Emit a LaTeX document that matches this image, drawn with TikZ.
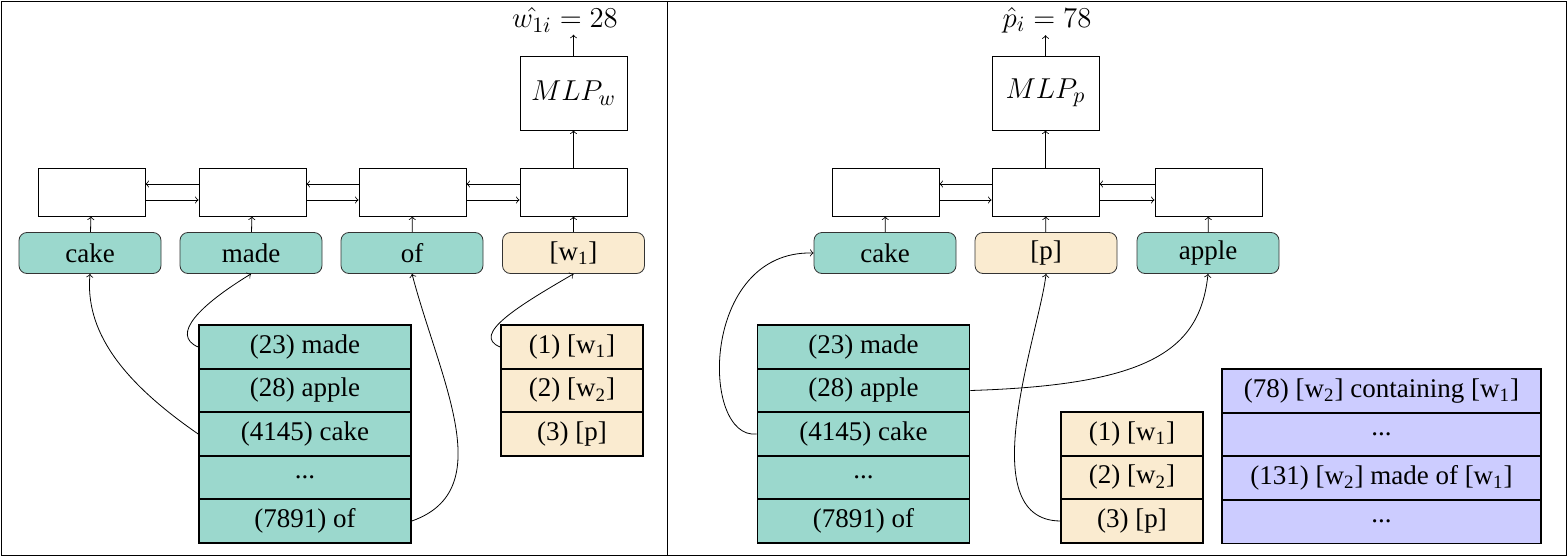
\documentclass[tikz,border=0pt]{standalone}
\usepackage[no-math]{fontspec}
\setmainfont{Liberation Serif}
\begin{document}
\definecolor{teal1}{HTML}{9BD8CD}
\definecolor{beige}{HTML}{FAEBD0}
\definecolor{lav}{HTML}{CCCCFF}
\begin{tikzpicture}[x=0.5pt,y=-0.5pt,font=\fontsize{13.5}{15}\selectfont,
  lstm/.style={draw,minimum width=53.5pt,minimum height=24pt,inner sep=0pt},
  mlp/.style={draw,minimum width=53.5pt,minimum height=37pt,inner sep=0pt,font=\fontsize{15}{17}\selectfont},
  lab/.style={inner sep=1pt,font=\fontsize{15}{17}\selectfont},
  tok/.style={draw=black!80,rounded corners=4pt,minimum width=71pt,minimum height=20.5pt,inner sep=0pt},
  row/.style={draw,line width=0.8pt,minimum height=21.8pt,inner sep=0pt},
  vt/.style={row,fill=teal1,minimum width=106pt},
  st/.style={row,fill=beige,minimum width=71pt},
  pt/.style={row,fill=lav,minimum width=159.5pt},
  arr/.style={->,>=to,thin},
  cur/.style={->,>=to,thin}]
\useasboundingbox (0,0) rectangle (1568,557);
\draw (1,1) rectangle (1566,555);
\draw (667,1) -- (667,555);
% LEFT
\node[lstm] (l1) at (91.5,192) {};
\node[lstm] (l2) at (252.5,192) {};
\node[lstm] (l3) at (412.5,192) {};
\node[lstm] (l4) at (573.5,192) {};
\node[mlp] (mw) at (573.5,93) {$MLP_w$};
\node[lab] (ow) at (565,20) {$\hat{w_{1i}} = 28$};
\node[tok,fill=teal1] (t1) at (90,253) {cake};
\node[tok,fill=teal1] (t2) at (251,253) {made};
\node[tok,fill=teal1] (t3) at (412,253) {of};
\node[tok,fill=beige] (t4) at (573.5,253) {[w\textsubscript{1}]};
\foreach \a/\b in {t1/l1,t2/l2,t3/l3,t4/l4} \draw[arr] (\a) -- (\b);
\draw[arr] (l4) -- (mw);
\draw[arr] (mw.north) -- (mw.north|-ow.south);
\foreach \a/\b in {l1/l2,l2/l3,l3/l4}{
  \draw[arr] ([yshift=4pt]\b.west) -- ([yshift=4pt]\a.east);
  \draw[arr] ([yshift=-4pt]\a.east) -- ([yshift=-4pt]\b.west);}
\node[vt] (v1) at (305,347) {(23) made};
\node[vt] (v2) at (305,390.5) {(28) apple};
\node[vt] (v3) at (305,434) {(4145) cake};
\node[vt] (v4) at (305,477.5) {...};
\node[vt] (v5) at (305,521) {(7891) of};
\node[st] (s1) at (572,347) {(1) [w\textsubscript{1}]};
\node[st] (s2) at (572,390.5) {(2) [w\textsubscript{2}]};
\node[st] (s3) at (572,434) {(3) [p]};
\draw[cur] (v3.west) .. controls (120,380) and (85,330) .. (t1.south);
\draw[cur] (v1.west) .. controls (170,335) and (200,305) .. (t2.south);
\draw[cur] (v5.east) .. controls (500,490) and (440,380) .. (t3.south);
\draw[cur] (s1.west) .. controls (470,335) and (520,305) .. (t4.south);
% RIGHT
\node[lstm] (r1) at (885.5,192) {};
\node[lstm] (r2) at (1045.5,192) {};
\node[lstm] (r3) at (1208.5,192) {};
\node[mlp] (mp) at (1045.5,93) {$MLP_p$};
\node[lab] (op) at (1047,20) {$\hat{p}_i = 78$};
\node[tok,fill=teal1] (u1) at (885,253) {cake};
\node[tok,fill=beige] (u2) at (1046,253) {[p]};
\node[tok,fill=teal1] (u3) at (1208,253) {apple};
\foreach \a/\b in {u1/r1,u2/r2,u3/r3} \draw[arr] (\a) -- (\b);
\draw[arr] (r2) -- (mp);
\draw[arr] (mp.north) -- (mp.north|-op.south);
\foreach \a/\b in {r1/r2,r2/r3}{
  \draw[arr] ([yshift=4pt]\b.west) -- ([yshift=4pt]\a.east);
  \draw[arr] ([yshift=-4pt]\a.east) -- ([yshift=-4pt]\b.west);}
\node[vt] (w1) at (863.5,347) {(23) made};
\node[vt] (w2) at (863.5,390.5) {(28) apple};
\node[vt] (w3) at (863.5,434) {(4145) cake};
\node[vt] (w4) at (863.5,477.5) {...};
\node[vt] (w5) at (863.5,521) {(7891) of};
\node[st] (q1) at (1132,434) {(1) [w\textsubscript{1}]};
\node[st] (q2) at (1132,477.5) {(2) [w\textsubscript{2}]};
\node[st] (q3) at (1132,521) {(3) [p]};
\node[pt] (p1) at (1381.5,391) {(78) [w\textsubscript{2}] containing [w\textsubscript{1}]};
\node[pt] (p2) at (1381.5,434.5) {...};
\node[pt] (p3) at (1381.5,478) {(131) [w\textsubscript{2}] made of [w\textsubscript{1}]};
\node[pt] (p4) at (1381.5,521.5) {...};
\draw[cur] (w3.west) .. controls (700,440) and (700,250) .. (u1.west);
\draw[cur] (w2.east) .. controls (1150,385) and (1200,350) .. (u3.south);
\draw[cur] (q3.west) .. controls (970,520) and (1040,330) .. (u2.south);
\end{tikzpicture}
\end{document}
